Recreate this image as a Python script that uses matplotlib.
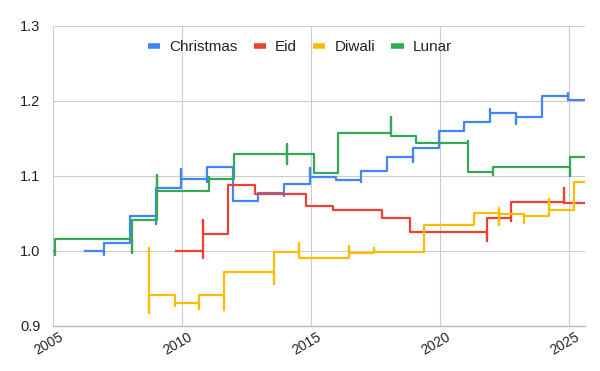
import matplotlib.pyplot as plt
import matplotlib.transforms as mtransforms
from matplotlib.lines import Line2D

plt.rcParams['font.family'] = ['Liberation Sans', 'DejaVu Sans']

series_names = ['Christmas', 'Eid', 'Diwali', 'Lunar']
colors = ['#4285F4', '#EA4335', '#FBBC04', '#34A853']

# step series; a repeated date gives the short spike seen at a change
christmas_x = [2006.26, 2006.96, 2006.96, 2007.97, 2008.99, 2008.99, 2009.97, 2009.97,
               2010.96, 2010.96, 2011.96, 2012.96, 2013.96, 2013.96, 2014.97, 2014.97,
               2015.95, 2016.95, 2016.95, 2017.94, 2018.94, 2018.94, 2019.96, 2020.94,
               2021.95, 2021.95, 2022.94, 2022.94, 2023.95, 2024.96, 2024.96, 2025.61]
christmas_y = [1.000, 0.995, 1.010, 1.047, 1.036, 1.084, 1.109, 1.096,
               1.092, 1.112, 1.067, 1.077, 1.073, 1.089, 1.111, 1.099,
               1.095, 1.092, 1.106, 1.125, 1.119, 1.137, 1.160, 1.172,
               1.189, 1.184, 1.169, 1.178, 1.206, 1.210, 1.201, 1.201]

eid_x = [2009.78, 2010.83, 2010.83, 2010.83, 2011.80, 2012.84, 2014.80, 2015.84,
         2017.77, 2018.82, 2021.81, 2021.81, 2022.77, 2022.77, 2024.79, 2024.79, 2025.61]
eid_y = [1.000, 0.991, 1.041, 1.023, 1.088, 1.076, 1.060, 1.055,
         1.044, 1.025, 1.013, 1.044, 1.040, 1.065, 1.084, 1.064, 1.064]

diwali_x = [2008.73, 2008.73, 2008.73, 2009.71, 2009.71, 2010.67, 2010.67, 2011.63,
            2011.63, 2013.56, 2013.56, 2014.54, 2014.54, 2016.48, 2016.48, 2017.46,
            2017.46, 2019.38, 2021.32, 2022.29, 2022.29, 2022.29, 2023.27, 2023.27,
            2024.22, 2024.22, 2025.18, 2025.61]
diwali_y = [1.004, 0.917, 0.941, 0.926, 0.930, 0.922, 0.941, 0.921,
            0.972, 0.956, 0.998, 1.010, 0.990, 1.007, 0.997, 1.004,
            0.999, 1.034, 1.050, 1.057, 1.035, 1.049, 1.037, 1.046,
            1.069, 1.055, 1.092, 1.092]

lunar_x = [2005.00, 2005.09, 2005.09, 2008.07, 2008.07, 2009.05, 2009.05, 2011.05,
           2011.05, 2012.02, 2014.06, 2014.06, 2014.06, 2015.12, 2016.06, 2018.09,
           2018.09, 2019.07, 2021.10, 2021.10, 2022.04, 2022.04, 2025.03, 2025.03, 2025.61]
lunar_y = [1.000, 0.995, 1.016, 0.997, 1.041, 1.101, 1.080, 1.099,
           1.096, 1.129, 1.143, 1.116, 1.129, 1.104, 1.157, 1.179,
           1.153, 1.144, 1.147, 1.105, 1.101, 1.112, 1.100, 1.125, 1.125]

year_ticks = [2005, 2010, 2015, 2020, 2025]
value_ticks = [0.9, 1.0, 1.1, 1.2, 1.3]

fig = plt.figure(figsize=(6, 3.71), dpi=100)
ax = fig.add_axes([0.0883, 0.1213, 0.8867, 0.8087])

data = [(christmas_x, christmas_y), (eid_x, eid_y), (diwali_x, diwali_y), (lunar_x, lunar_y)]
for (xs, ys), c in zip(data, colors):
    ax.plot(xs, ys, drawstyle='steps-post', color=c, lw=1.6, zorder=3)

ax.set_xlim(2005, 2025.62)
ax.set_ylim(0.9, 1.3)
ax.set_xticks(year_ticks)
ax.set_xticklabels([str(y) for y in year_ticks], rotation=30, ha='right',
                   rotation_mode='anchor', fontsize=10, color='#222222')
ax.set_yticks(value_ticks)
ax.set_yticklabels(['%.1f' % v for v in value_ticks], fontsize=10.5, color='#222222')
ax.tick_params(axis='both', length=0)
ax.tick_params(axis='y', pad=9)
ax.tick_params(axis='x', pad=3)
shift = mtransforms.ScaledTranslation(0.06, 0, fig.dpi_scale_trans)
for lab in ax.get_xticklabels():
    lab.set_transform(lab.get_transform() + shift)
ax.grid(True, color='#cccccc', lw=0.8)
ax.set_axisbelow(True)
for s in ['top', 'right', 'left']:
    ax.spines[s].set_visible(False)
ax.spines['bottom'].set_color('#bbbbbb')
ax.spines['bottom'].set_linewidth(1.0)

handles = [Line2D([], [], color=c, lw=4, solid_capstyle='butt') for c in colors]
fig.legend(handles, series_names, loc='center', bbox_to_anchor=(0.5, 0.8725), ncol=4,
           frameon=False, fontsize=11, handlelength=0.8, handletextpad=0.6,
           columnspacing=1.05, borderpad=0, labelcolor='#222222')

fig.savefig('out.png', dpi=100)
